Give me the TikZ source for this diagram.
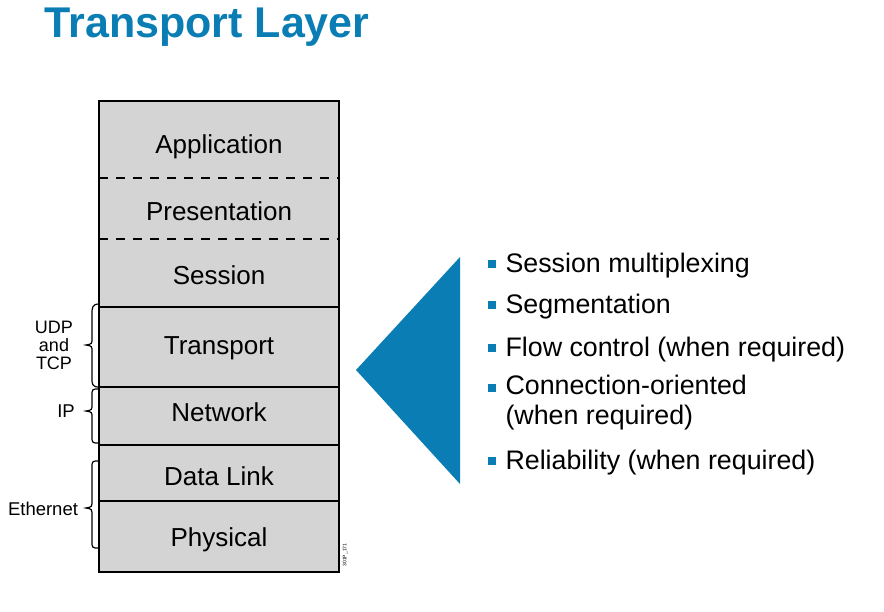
\documentclass[tikz,border=0pt]{standalone}
\usepackage{fontspec}
\setmainfont{Liberation Sans}
\definecolor{cblue}{HTML}{0A7EB4}
\definecolor{lgray}{HTML}{D4D4D4}
\begin{document}
\begin{tikzpicture}[x=1pt,y=-1pt,
 lay/.style={font=\fontsize{26}{28}\selectfont},
 side/.style={font=\fontsize{18.5}{19}\selectfont,align=center},
 bul/.style={font=\fontsize{26.8}{30}\selectfont,anchor=west,align=left},
 sq/.style={fill=cblue,minimum size=8pt,inner sep=0pt}]
\useasboundingbox (0,0) rectangle (884,611);
\node[anchor=west,text=cblue,font=\bfseries\fontsize{43}{45}\selectfont] (title) at (41,27) {Transport Layer};
\fill[lgray] (99,101) rectangle (339,572);
\draw[line width=1.2pt] (99,101) rectangle (339,572);
\draw[line width=1.2pt,dash pattern=on 9pt off 8pt] (99,178) -- (339,178) (99,239) -- (339,239);
\draw[line width=1.2pt] (99,307) -- (339,307) (99,387) -- (339,387) (99,445) -- (339,445) (99,501) -- (339,501);
\node[lay] (app) at (219,147) {Application};
\node[lay] (pre) at (219,211) {Presentation};
\node[lay] (ses) at (219,275) {Session};
\node[lay] (tra) at (219,348) {Transport};
\node[lay] (net) at (219,412) {Network};
\node[lay] (dl) at (219,476) {Data Link};
\node[lay] (phy) at (219,540) {Physical};
\node[rotate=90,font=\fontsize{5}{6}\selectfont] (code) at (345,555) {301P\_171};
% braces
\draw[line width=1.2pt] (99,304) .. controls (92,304) and (92,308) .. (92,314) -- (92,338) .. controls (92,344) .. (86,345) .. controls (92,346) .. (92,352) -- (92,378) .. controls (92,384) and (92,387) .. (99,387);
\draw[line width=1.2pt] (99,389) .. controls (92,389) .. (92,396) -- (92,404) .. controls (92,410) .. (86,411) .. controls (92,412) .. (92,418) -- (92,436) .. controls (92,443) .. (99,443);
\draw[line width=1.2pt] (99,461) .. controls (92,461) .. (92,468) -- (92,500) .. controls (92,507) .. (86,508) .. controls (92,509) .. (92,516) -- (92,541) .. controls (92,548) .. (99,548);
\node[side,font=\fontsize{18}{18}\selectfont] (udp) at (54,345) {UDP\\and\\TCP};
\node[side] (ip) at (66,411) {IP};
\node[side] (eth) at (43,509) {Ethernet};
\fill[cblue] (356,370) -- (460,257) -- (460,484) -- cycle;
\node[sq] (s1) at (492,264) {}; \node[bul] (b1) at (502,266) {Session multiplexing};
\node[sq] (s2) at (492,305) {}; \node[bul] (b2) at (502,307) {Segmentation};
\node[sq] (s3) at (492,348) {}; \node[bul] (b3) at (502,350) {Flow control (when required)};
\node[sq] (s4) at (492,388) {}; \node[bul,anchor=north west] (b4) at (502,372) {Connection-oriented\\(when required)};
\node[sq] (s5) at (492,461) {}; \node[bul] (b5) at (502,463) {Reliability (when required)};
\end{tikzpicture}
\end{document}
